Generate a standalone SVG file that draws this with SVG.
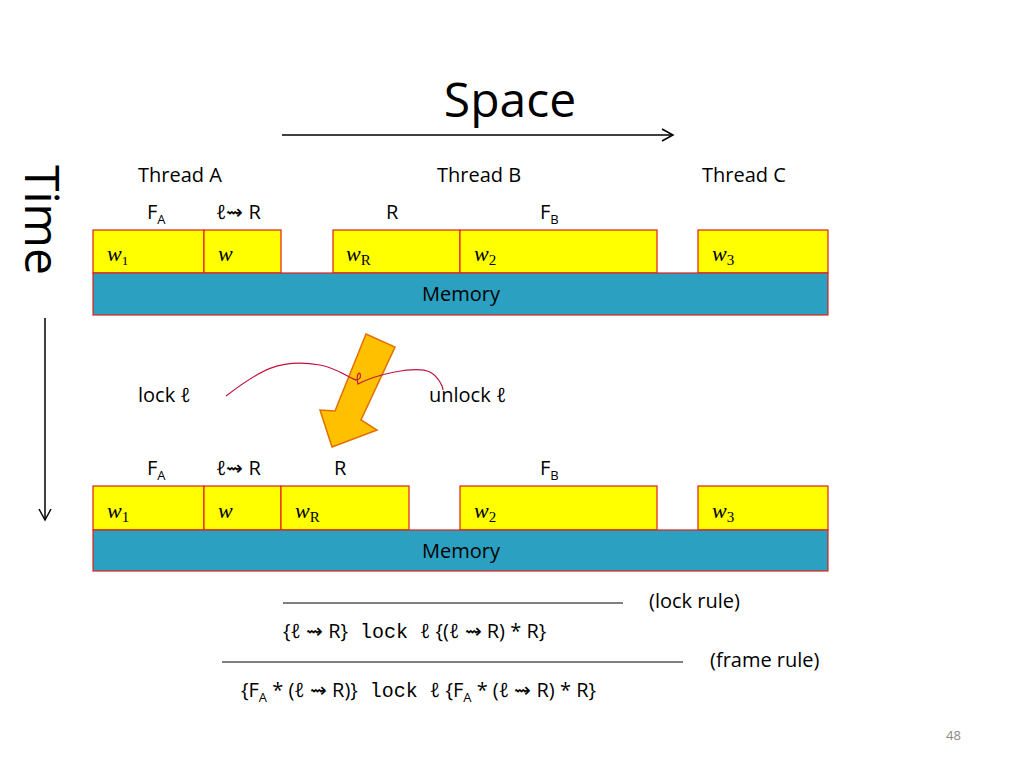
<svg xmlns="http://www.w3.org/2000/svg" width="1024" height="768" viewBox="0 0 1024 768">
<defs>
<style>
.t{font-family:"Open Sans","Liberation Sans",sans-serif;font-size:20px;fill:#000}
.m{font-family:"Liberation Serif",serif;font-style:italic;font-size:22px}
.s{font-size:13px;font-style:normal}
.y{fill:#ffff00;stroke:#e0201c;stroke-width:1.2}
.mem{fill:#2ba0c0;stroke:#e0201c;stroke-width:1.2}
.mono{font-family:"Liberation Mono",monospace;font-size:20px}
</style>
<marker id="ah" markerWidth="14" markerHeight="14" refX="12" refY="7" orient="auto" markerUnits="userSpaceOnUse"><path d="M1,1 L12,7 L1,13" fill="none" stroke="#000" stroke-width="1.5"/></marker>
</defs>
<rect width="1024" height="768" fill="#fff"/>
<text x="510" y="117" text-anchor="middle" style="font-family:'Open Sans','Liberation Sans',sans-serif;font-size:48px">Space</text>
<text transform="translate(25,165) rotate(90)" style="font-family:'Open Sans','Liberation Sans',sans-serif;font-size:48px">Time</text>
<g id="connectors" stroke="#000" stroke-width="1.5" fill="none">
<line x1="282" y1="135" x2="673" y2="135" marker-end="url(#ah)"/>
<line x1="45" y1="318" x2="45" y2="520" marker-end="url(#ah)"/>
</g>
<text class="t" x="138" y="182">Thread  A</text>
<text class="t" x="437" y="182">Thread  B</text>
<text class="t" x="702" y="182">Thread  C</text>
<g id="top">
<text class="t" x="147" y="219">F<tspan class="s" dy="5">A</tspan></text>
<text class="t" x="216" y="219">ℓ⇝ R</text>
<text class="t" x="386" y="219">R</text>
<text class="t" x="540" y="219">F<tspan class="s" dy="5">B</tspan></text>
<rect class="y" x="93" y="230" width="111" height="43"/><text class="m" x="107" y="261">w<tspan class="s" font-family="Liberation Serif" dy="4" font-size="15">1</tspan></text>
<rect class="y" x="204" y="230" width="77" height="43"/><text class="m" x="218" y="261">w</text>
<rect class="y" x="333" y="230" width="127" height="43"/><text class="m" x="346" y="261">w<tspan font-style="normal" dy="4" font-size="15">R</tspan></text>
<rect class="y" x="460" y="230" width="197" height="43"/><text class="m" x="474" y="261">w<tspan font-style="normal" dy="4" font-size="15">2</tspan></text>
<rect class="y" x="698" y="230" width="130" height="43"/><text class="m" x="712" y="261">w<tspan font-style="normal" dy="4" font-size="15">3</tspan></text>
<rect class="mem" x="93" y="273" width="735" height="42"/><text class="t" x="461" y="301" text-anchor="middle">Memory</text>
</g>
<g id="transition">
<polygon points="366,334 395,347 361,420 377,430 332,447 320,410 335,411" fill="#ffc000" stroke="#e07000" stroke-width="1.5"/>
<path d="M226,396 C260,370 280,358 320,365 C345,370 355,385 360,378 C362,370 355,372 358,384 C375,375 415,365 430,372 C440,378 443,388 443,390" fill="none" stroke="#c0143c" stroke-width="1.2"/>
<text class="t" x="138" y="402">lock  ℓ</text>
<text class="t" x="429" y="402">unlock  ℓ</text>
</g>
<g id="bottom">
<text class="t" x="147" y="475">F<tspan class="s" dy="5">A</tspan></text>
<text class="t" x="216" y="475">ℓ⇝ R</text>
<text class="t" x="334" y="475">R</text>
<text class="t" x="540" y="475">F<tspan class="s" dy="5">B</tspan></text>
<rect class="y" x="93" y="486" width="111" height="44"/><text class="m" x="107" y="518">w<tspan font-style="normal" dy="4" font-size="15">1</tspan></text>
<rect class="y" x="204" y="486" width="77" height="44"/><text class="m" x="218" y="518">w</text>
<rect class="y" x="281" y="486" width="128" height="44"/><text class="m" x="295" y="518">w<tspan font-style="normal" dy="4" font-size="15">R</tspan></text>
<rect class="y" x="460" y="486" width="197" height="44"/><text class="m" x="474" y="518">w<tspan font-style="normal" dy="4" font-size="15">2</tspan></text>
<rect class="y" x="698" y="486" width="130" height="44"/><text class="m" x="712" y="518">w<tspan font-style="normal" dy="4" font-size="15">3</tspan></text>
<rect class="mem" x="93" y="530" width="735" height="41"/><text class="t" x="461" y="558" text-anchor="middle">Memory</text>
</g>
<g id="rules">
<line x1="283" y1="603" x2="623" y2="603" stroke="#000" stroke-width="1"/>
<text class="t" x="649" y="608">(lock rule)</text>
<text class="t" x="283" y="638">{ℓ ⇝ R}<tspan class="mono"> lock </tspan> ℓ {(ℓ ⇝ R) * R}</text>
<line x1="222" y1="662" x2="683" y2="662" stroke="#000" stroke-width="1"/>
<text class="t" x="710" y="667">(frame rule)</text>
<text class="t" x="241" y="697">{F<tspan class="s" dy="5">A</tspan><tspan dy="-5"> * (ℓ ⇝ R)}</tspan><tspan class="mono"> lock </tspan> ℓ {F<tspan class="s" dy="5">A</tspan><tspan dy="-5"> * (ℓ ⇝ R) * R}</tspan></text>
</g>
<text x="946" y="740" style="font-family:'Open Sans','Liberation Sans',sans-serif;font-size:13px;fill:#888">48</text>
</svg>
